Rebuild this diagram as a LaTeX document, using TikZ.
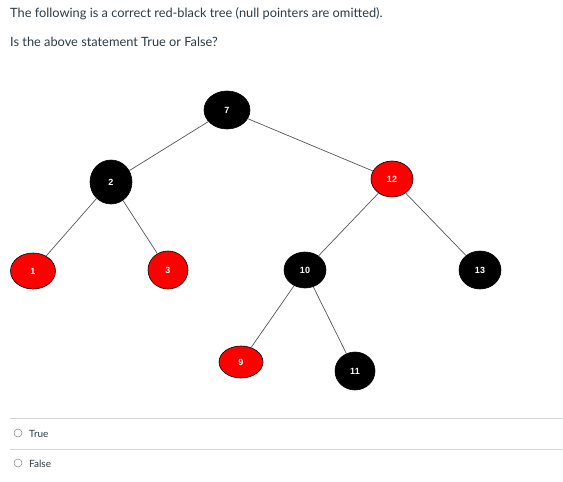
\documentclass[tikz,border=0pt]{standalone}
\usepackage{fontspec}
\usetikzlibrary{shapes.geometric}
\setmainfont{Lato}
\newfontfamily\arialfont{Liberation Sans}
\definecolor{txtgray}{HTML}{2D3B45}
\definecolor{edgegray}{HTML}{555555}
\definecolor{rulegray}{HTML}{D5D5D5}
\definecolor{rbred}{HTML}{FF0000}
\begin{document}
\begin{tikzpicture}[x=1pt,y=-1pt,
  rbnode/.style={ellipse, draw=black, line width=0.6pt, inner sep=0pt,
    font=\arialfont\bfseries\fontsize{9}{10}\selectfont, text=white},
  blk/.style={rbnode, fill=black},
  rd/.style={rbnode, fill=rbred},
  edge/.style={draw=edgegray, line width=0.7pt},
  qtext/.style={anchor=base west, inner sep=0pt, text=txtgray, font=\fontsize{12.8}{14}\selectfont},
  opttext/.style={anchor=base west, inner sep=0pt, text=txtgray, font=\fontsize{10}{12}\selectfont},
  radio/.style={circle, draw=gray, line width=0.5pt, minimum size=8pt, inner sep=0pt},
  hrule/.style={draw=rulegray, line width=0.8pt}]
\useasboundingbox (0,0) rectangle (563,482);
\node[qtext] (t1) at (10,17) {The following is a correct red-black tree (null pointers are omitted).};
\node[qtext] (t2) at (10,46) {Is the above statement True or False?};

\node[blk, minimum width=46pt, minimum height=38pt] (n7) at (227,110) {7};
\node[blk, minimum width=42pt, minimum height=44pt] (n2) at (111,182) {2};
\node[rd, minimum width=42pt, minimum height=36pt] (n12) at (392,179) {12};
\node[rd, minimum width=45pt, minimum height=36pt] (n1) at (33,271) {1};
\node[rd, minimum width=40pt, minimum height=38pt] (n3) at (168,270) {3};
\node[blk, minimum width=42pt, minimum height=36pt] (n10) at (305,270) {10};
\node[blk, minimum width=42pt, minimum height=38pt] (n13) at (480,270) {13};
\node[rd, minimum width=44pt, minimum height=32pt] (n9) at (241,362) {9};
\node[blk, minimum width=40pt, minimum height=38pt] (n11) at (355,371) {11};

\draw[edge] (n7) -- (n2);
\draw[edge] (n7) -- (n12);
\draw[edge] (n2) -- (n1);
\draw[edge] (n2) -- (n3);
\draw[edge] (n12) -- (n10);
\draw[edge] (n12) -- (n13);
\draw[edge] (n10) -- (n9);
\draw[edge] (n10) -- (n11);

\coordinate (r1a) at (10,418);
\coordinate (r1b) at (563,418);
\coordinate (r2a) at (10,449);
\coordinate (r2b) at (563,449);
\draw[hrule] (r1a) -- (r1b);
\draw[hrule] (r2a) -- (r2b);
\node[radio] (rb1) at (18,433) {};
\node[radio] (rb2) at (18,463) {};
\node[opttext] (o1) at (29,437) {True};
\node[opttext] (o2) at (29,467) {False};
\end{tikzpicture}
\end{document}
